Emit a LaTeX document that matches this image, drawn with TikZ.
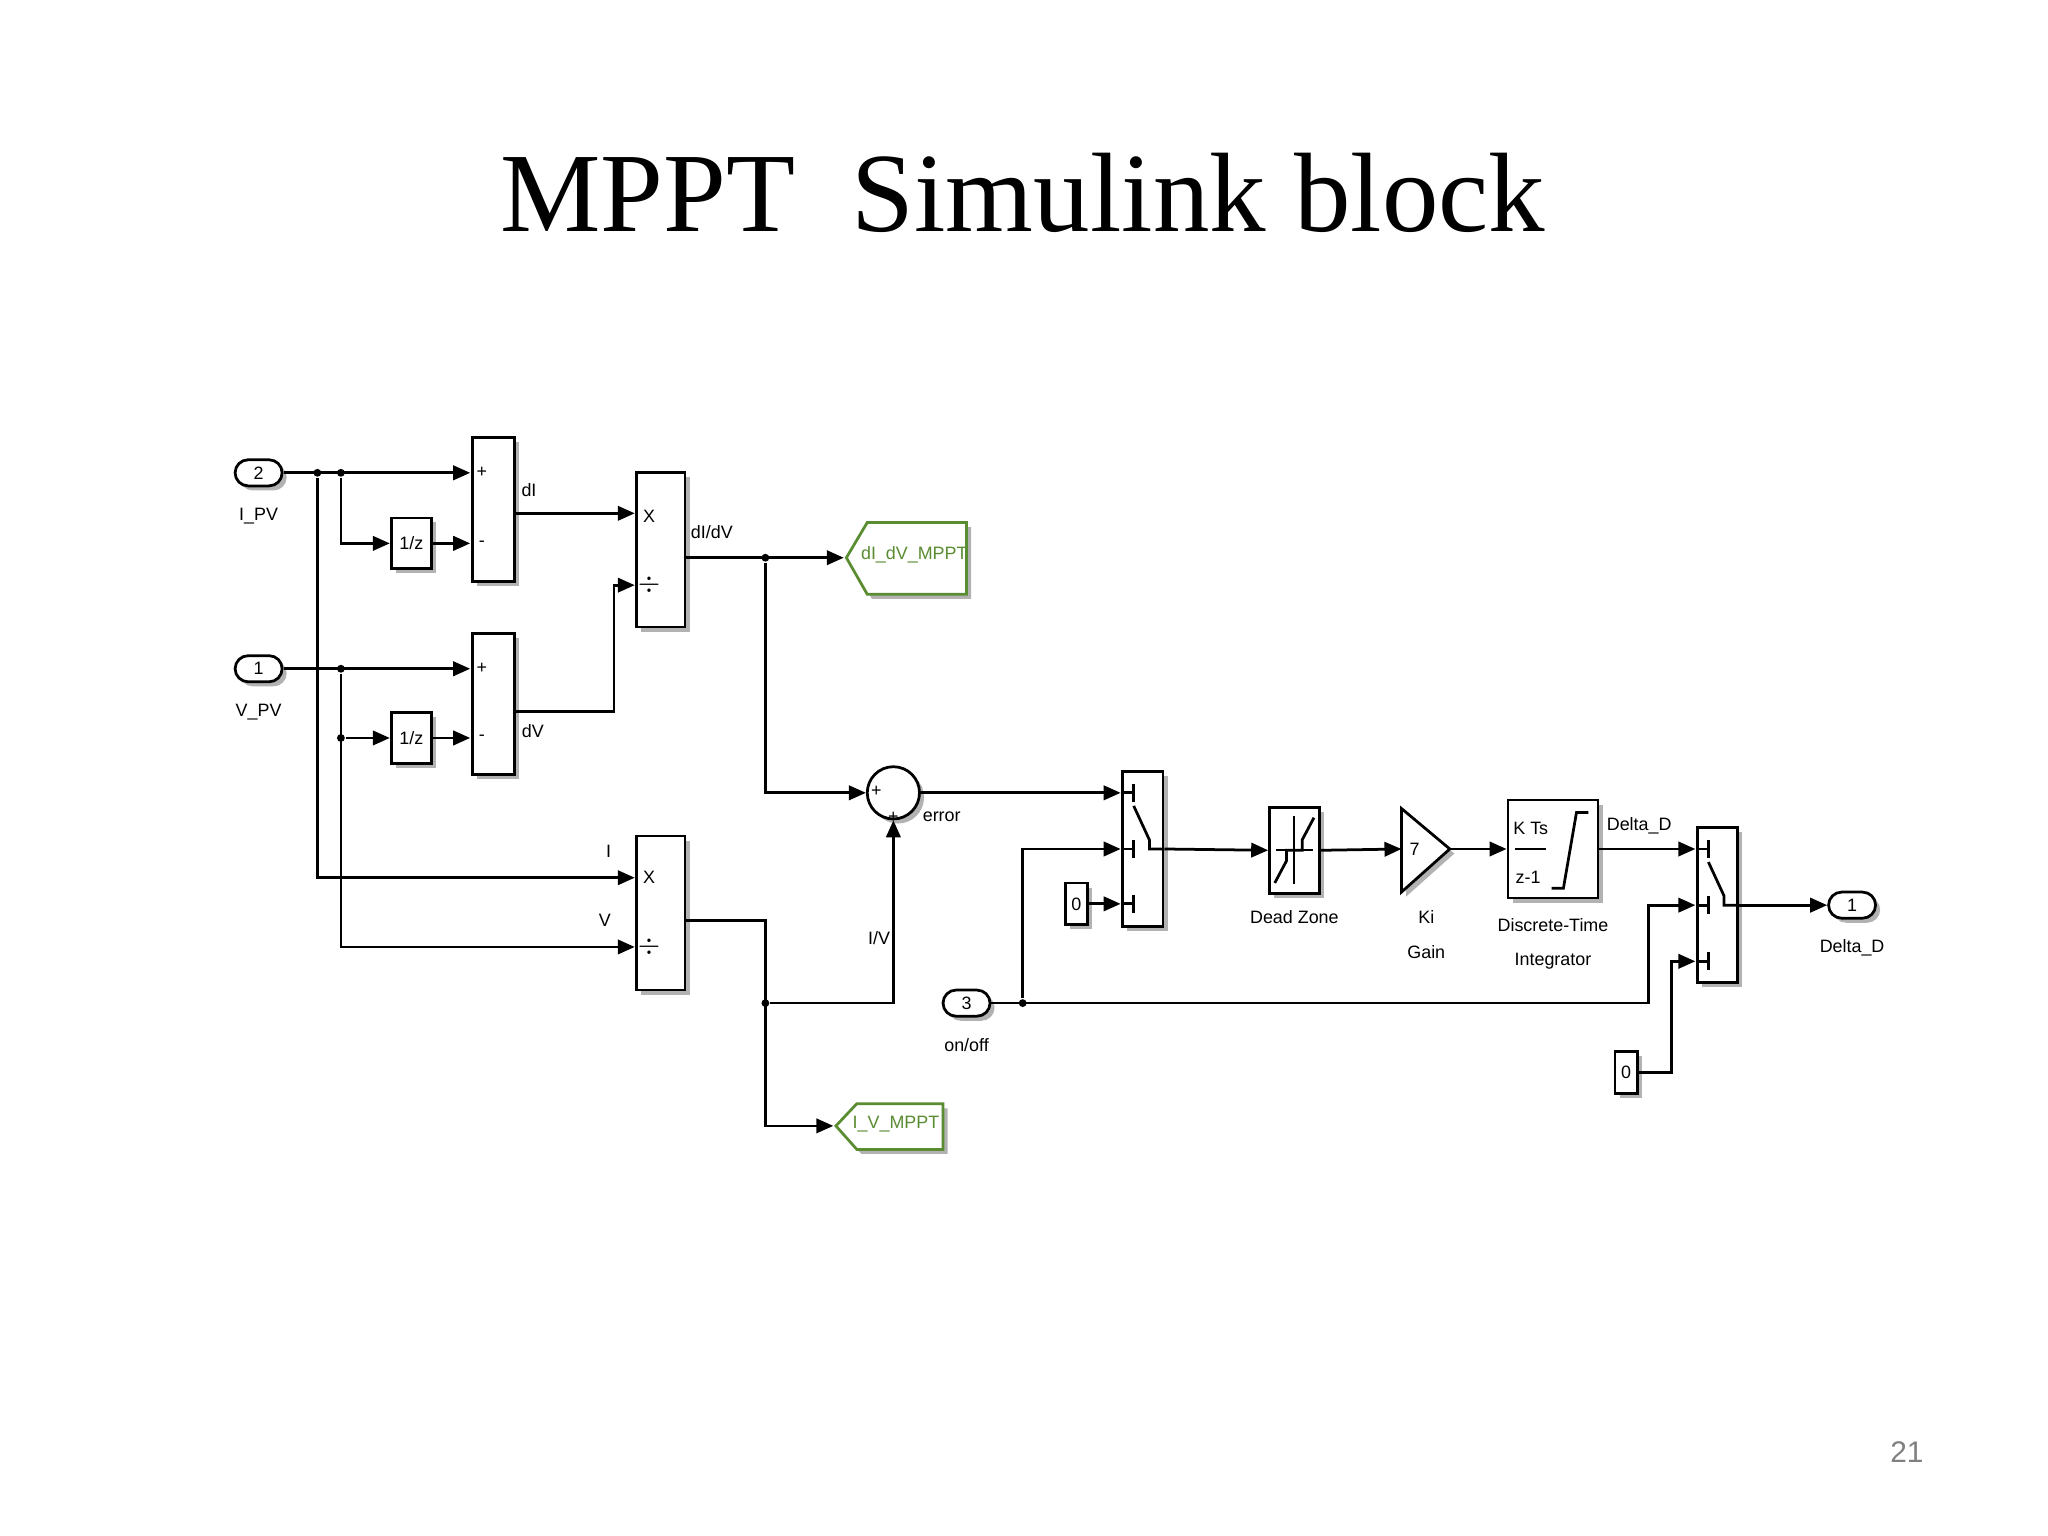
\documentclass[tikz,border=0pt]{standalone}
\usepackage{fontspec}
\setmainfont{Liberation Sans}
\newfontfamily\titlefont{Liberation Serif}
\usetikzlibrary{arrows.meta,shadows,shapes.geometric}
\definecolor{gotogreen}{RGB}{90,140,50}
\begin{document}
\begin{tikzpicture}[x=0.1mm,y=-0.1mm,
  blk/.style={draw,semithick,fill=white,drop shadow={shadow xshift=0.35mm,shadow yshift=-0.35mm,fill=gray!60,opacity=1},inner sep=0pt},
  w/.style={semithick,-{Triangle[length=1.3mm,width=1.1mm]}},
  lbl/.style={font=\fontsize{3.9}{4.5}\selectfont,inner sep=0pt},
  dot/.style={circle,fill,inner sep=0pt,minimum size=0.6mm}]
\useasboundingbox (0,0) rectangle (1568,1176);
\node[font=\titlefont\fontsize{24.6}{26}\selectfont] (title) at (783,148) {MPPT\ \ Simulink block};
\node[font=\fontsize{6.5}{7}\selectfont,text=gray] (pg) at (1460,1112) {21};

% inports / outport
\node[blk,rounded corners=1mm,minimum width=3.6mm,minimum height=2mm,lbl] (in2) at (198,362) {2};
\node[lbl] (l_ipv) at (198,395) {I\_PV};
\node[blk,rounded corners=1mm,minimum width=3.6mm,minimum height=2mm,lbl] (in1) at (198,512) {1};
\node[lbl] (l_vpv) at (198,545) {V\_PV};
\node[blk,rounded corners=1mm,minimum width=3.6mm,minimum height=2mm,lbl] (in3) at (740,768) {3};
\node[lbl] (l_onoff) at (740,800) {on/off};
\node[blk,rounded corners=1mm,minimum width=3.6mm,minimum height=2mm,lbl] (out1) at (1418,693) {1};
\node[lbl] (l_dd) at (1418,726) {Delta\_D};

% sums
\node[blk,minimum width=3.2mm,minimum height=11mm] (sum1) at (378,390) {};
\node[lbl] at (369,362) {+}; \node[lbl] at (369,416) {-};
\node[lbl] (l_dI) at (405,375) {dI};
\node[blk,minimum width=3.2mm,minimum height=10.8mm] (sum2) at (378,539) {};
\node[lbl] at (369,512) {+}; \node[lbl] at (369,565) {-};
\node[lbl] (l_dV) at (408,560) {dV};
\node[blk,minimum width=3.1mm,minimum height=3.9mm,lbl] (d1) at (315,416) {1/z};
\node[blk,minimum width=3.1mm,minimum height=3.9mm,lbl] (d2) at (315,565) {1/z};

% divides
\node[blk,minimum width=3.7mm,minimum height=11.8mm] (div1) at (506,421) {};
\node[lbl] at (497,395) {X}; \node[lbl] at (497,448) {$\div$};
\node[lbl] (l_didv) at (545,407) {dI/dV};
\node[blk,minimum width=3.7mm,minimum height=11.8mm] (div2) at (506,699) {};
\node[lbl] at (497,672) {X}; \node[lbl] at (497,725) {$\div$};
\node[lbl] (l_I) at (466,652) {I};
\node[lbl] (l_V) at (463,705) {V};

% gotos
\draw[semithick,gotogreen,fill=white,drop shadow={shadow xshift=0.35mm,shadow yshift=-0.35mm,fill=gray!60,opacity=1}]
  (648,427) -- (664,400) -- (740,400) -- (740,455) -- (664,455) -- cycle;
\node[lbl,text=gotogreen] (g1) at (700,425) {dI\_dV\_MPPT};
\draw[semithick,gotogreen,fill=white,drop shadow={shadow xshift=0.35mm,shadow yshift=-0.35mm,fill=gray!60,opacity=1}]
  (640,862) -- (656,845) -- (722,845) -- (722,880) -- (656,880) -- cycle;
\node[lbl,text=gotogreen] (g2) at (686,861) {I\_V\_MPPT};
\coordinate (g1in) at (646,427);
\coordinate (g2in) at (638,862);

% sum circle
\node[blk,circle,minimum size=4mm] (sc) at (684,607) {};
\node[lbl] at (671,606) {+}; \node[lbl] at (684,626) {+};
\node[lbl] (l_err) at (721,625) {error};
\node[lbl] (l_iv) at (673,718) {I/V};

% switches
\node[blk,minimum width=3.1mm,minimum height=11.9mm] (sw1) at (875,650) {};
\node[blk,minimum width=3.1mm,minimum height=11.9mm] (sw2) at (1315,693) {};
\draw[semithick] (860,607) -- (868,607) (868,600) -- (868,614);
\draw[semithick] (860,692) -- (868,692) (868,685) -- (868,699);
\draw[semithick] (860,650) -- (868,650) (868,643) -- (868,657);
\draw[semithick] (868,617) -- (880,643) -- (880,650) -- (890,650);
\draw[semithick] (1300,650) -- (1308,650) (1308,643) -- (1308,657);
\draw[semithick] (1300,736) -- (1308,736) (1308,729) -- (1308,743);
\draw[semithick] (1300,693) -- (1308,693) (1308,686) -- (1308,700);
\draw[semithick] (1308,660) -- (1320,686) -- (1320,693) -- (1331,693);

\node[blk,minimum width=1.7mm,minimum height=3.2mm,lbl] (c1) at (824,692) {0};
\node[blk,minimum width=1.7mm,minimum height=3.2mm,lbl] (c2) at (1245,821) {0};

% dead zone
\node[blk,minimum width=3.8mm,minimum height=6.6mm] (dz) at (991,651) {};
\draw[thin] (977,651) -- (1005,651) (991,625) -- (991,677);
\draw[semithick] (976,676) -- (985,659) -- (985,651) -- (997,651) -- (997,643) -- (1006,626);
\node[lbl] (l_dz) at (991,702) {Dead Zone};

% gain
\draw[semithick,fill=white,drop shadow={shadow xshift=0.35mm,shadow yshift=-0.35mm,fill=gray!60,opacity=1}]
  (1073,619) -- (1110,650) -- (1073,683) -- cycle;
\coordinate (gin) at (1073,650);
\coordinate (gout) at (1110,650);
\node[lbl] at (1083,650) {7};
\node[lbl] (l_ki) at (1092,702) {Ki};
\node[lbl] (l_gain) at (1092,729) {Gain};

% integrator
\node[blk,minimum width=6.9mm,minimum height=7.5mm] (int) at (1189,650) {};
\node[lbl] at (1172,634) {K Ts};
\draw[semithick] (1160,650) -- (1184,650);
\node[lbl] at (1170,672) {z-1};
\draw[semithick] (1188,680) -- (1197,680) -- (1207,622) -- (1216,622);
\node[lbl] (l_dt) at (1189,708) {Discrete-Time};
\node[lbl] (l_int) at (1189,736) {Integrator};
\node[lbl] (l_deltad) at (1255,632) {Delta\_D};

% wires
\draw[w] (in2.east) -- (360,362);
\node[dot] (b1) at (243,362) {};
\node[dot] (b2) at (261,362) {};
\draw[w] (b2) |- (d1.west);
\draw[w] (d1.east) -- (360,416);
\draw[w] (b1) |- (486,672);
\draw[w] (in1.east) -- (360,512);
\node[dot] (b3) at (261,512) {};
\node[dot] (b4) at (261,565) {};
\draw[w] (b4) -- (d2.west);
\draw[w] (d2.east) -- (360,565);
\draw[w] (b3) |- (486,725);
\draw[w] (sum1.east|-0,393) -- (486,393);
\draw[w] (sum2.east|-0,545) -- (470,545) -- (470,448) -- (486,448);
\draw[w] (div1.east|-0,427) -- (g1in);
\node[dot] (b5) at (586,427) {};
\draw[w] (b5) |- (sc.west);
\draw[w] (div2.east|-0,705) -- (586,705) |- (g2in);
\node[dot] (b6) at (586,768) {};
\draw[w] (b6) -| (sc.south);
\draw[w] (sc.east) -- (858,607);
\draw[w] (c1.east) -- (858,692);
\draw[w] (in3.east) -- (1262,768) -- (1262,693) -- (1298,693);
\node[dot] (b7) at (783,768) {};
\draw[w] (b7) |- (858,650);
\draw[w] (sw1.east|-0,650) -- (dz.west);
\draw[w] (dz.east) -- (gin);
\draw[w] (gout) -- (int.west);
\draw[w] (int.east) -- (1298,650);
\draw[w] (c2.east) -- (1280,821) -- (1280,736) -- (1298,736);
\draw[w] (sw2.east|-0,693) -- (out1.west);
\end{tikzpicture}
\end{document}
